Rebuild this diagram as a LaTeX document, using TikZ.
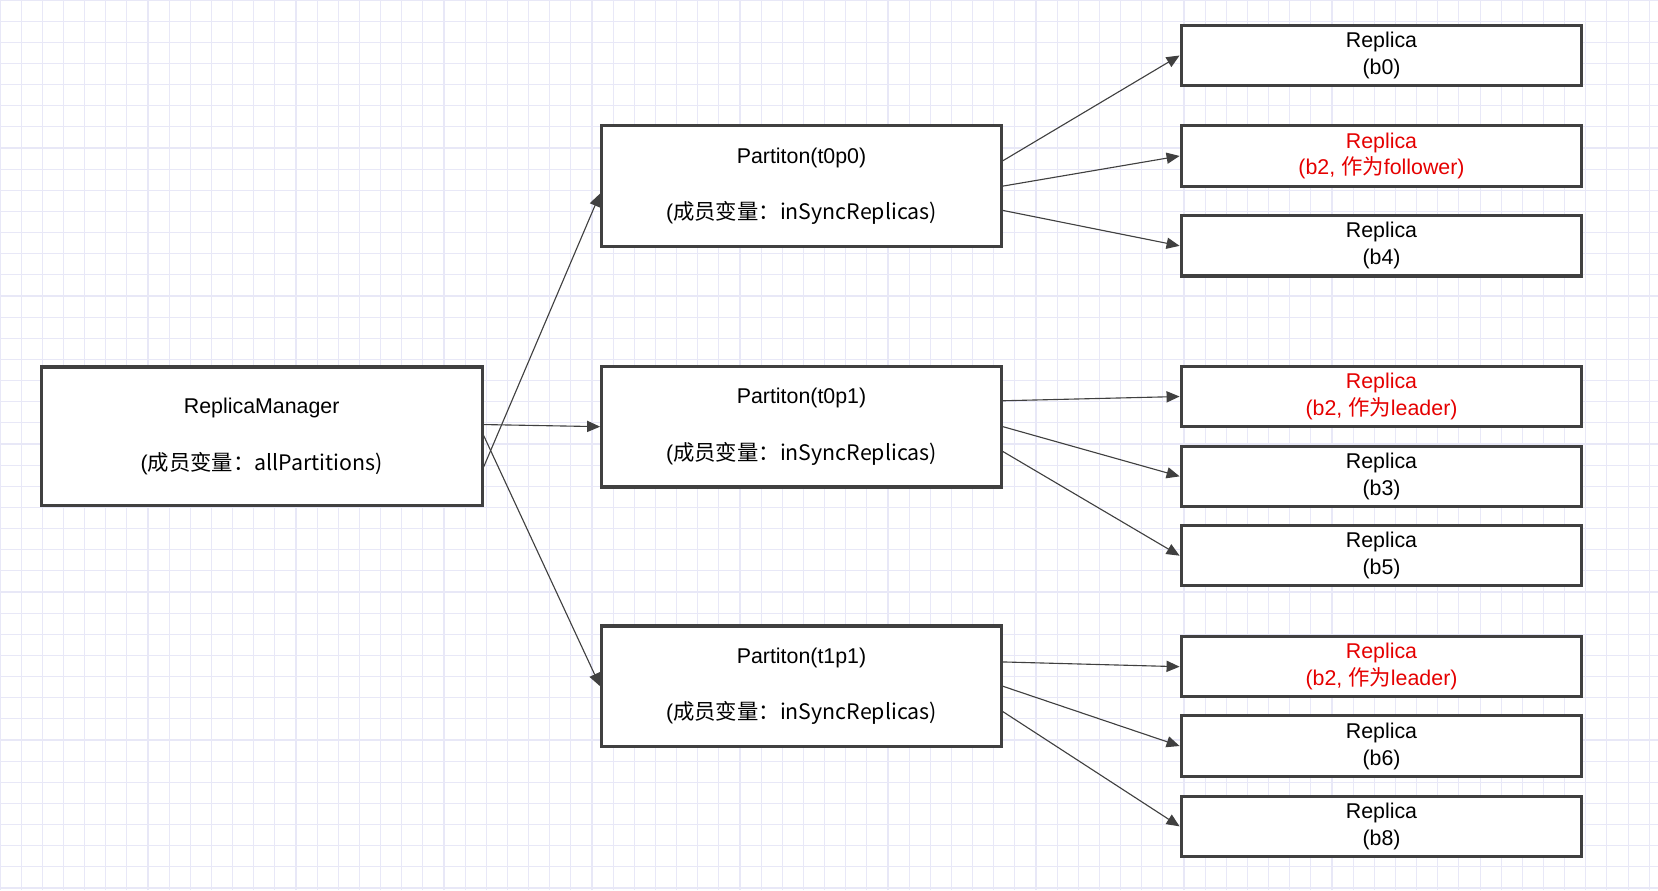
\documentclass[tikz,border=0pt]{standalone}
\usepackage{fontspec}
\setmainfont{Liberation Sans}
\newfontfamily\cjk{Noto Sans CJK SC}
\usetikzlibrary{arrows.meta,positioning}
\definecolor{gridline}{rgb}{0.91,0.91,0.97}
\definecolor{boxline}{gray}{0.25}
\definecolor{redtext}{rgb}{0.9,0,0}
\begin{document}
\begin{tikzpicture}[x=0.02cm,y=-0.02cm,
  font=\fontsize{11.5}{14.5}\selectfont,
  box/.style={draw=boxline,line width=1.7pt,fill=white,inner sep=0pt,align=center},
  manager/.style={box,minimum width=8.34cm,minimum height=2.62cm},
  partition/.style={box,minimum width=7.56cm,minimum height=2.28cm},
  replica/.style={box,minimum width=7.58cm,minimum height=1.14cm},
  leader/.style={replica,text=redtext},
  arrow/.style={draw=boxline,line width=0.6pt,-{Triangle[length=7pt,width=6pt]}}]
\useasboundingbox (0,0) rectangle (1568,842);
\fill[white] (0,0) rectangle (1568,842);
\draw[gridline,line width=0.6pt,step=0.4cm] (0,0) grid (1568,842);

\node [manager] (rm) at (247.5,412.5) {ReplicaManager\\[16pt](\cjk 成员变量：allPartitions)};
\node [partition] (p0) at (758,176) {Partiton(t0p0)\\[16pt](\cjk 成员变量：inSyncReplicas)};
\node [partition] (p1) at (758,403.5) {Partiton(t0p1)\\[16pt](\cjk 成员变量：inSyncReplicas)};
\node [partition] (p2) at (758,649) {Partiton(t1p1)\\[16pt](\cjk 成员变量：inSyncReplicas)};

\node [replica] (b0) at (1306.5,52.5) {Replica\\(b0)};
\node [leader] (f2) at (1306.5,147.5) {Replica\\(b2, {\cjk 作为}follower)};
\node [replica] (b4) at (1306.5,232.5) {Replica\\(b4)};
\node [leader] (l2a) at (1306.5,375) {Replica\\(b2, {\cjk 作为}leader)};
\node [replica] (b3) at (1306.5,450.5) {Replica\\(b3)};
\node [replica] (b5) at (1306.5,525.5) {Replica\\(b5)};
\node [leader] (l2b) at (1306.5,630.5) {Replica\\(b2, {\cjk 作为}leader)};
\node [replica] (b6) at (1306.5,705.5) {Replica\\(b6)};
\node [replica] (b8) at (1306.5,781.5) {Replica\\(b8)};

\draw [arrow] ([yshift=-0.58cm]rm.east) -- ([yshift=-0.14cm]p0.west);
\draw [arrow] ([yshift=0.22cm]rm.east) -- (p1.west);
\draw [arrow] ([yshift=0.01cm]rm.east) -- (p2.west);

\draw [arrow] ([yshift=0.48cm]p0.east) -- (b0.west);
\draw [arrow] (p0.east) -- (f2.west);
\draw [arrow] ([yshift=-0.46cm]p0.east) -- (b4.west);

\draw [arrow] ([yshift=0.49cm]p1.east) -- (l2a.west);
\draw [arrow] (p1.east) -- (b3.west);
\draw [arrow] ([yshift=-0.47cm]p1.east) -- (b5.west);

\draw [arrow] ([yshift=0.46cm]p2.east) -- (l2b.west);
\draw [arrow] (p2.east) -- (b6.west);
\draw [arrow] ([yshift=-0.48cm]p2.east) -- (b8.west);
\end{tikzpicture}
\end{document}
